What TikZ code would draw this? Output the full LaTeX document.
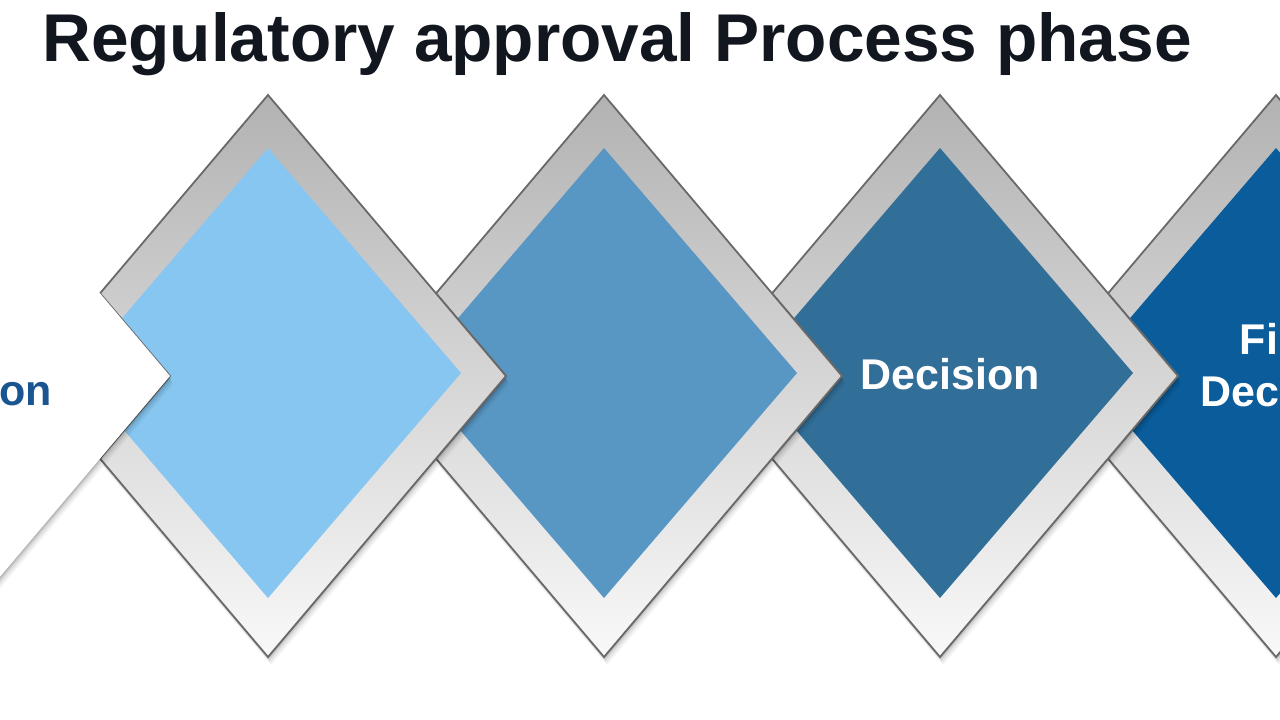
\documentclass[tikz,border=0pt]{standalone}
\usepackage{fontspec}
\setmainfont{Liberation Sans}
\definecolor{cA}{RGB}{135,198,240}
\definecolor{cB}{RGB}{88,151,196}
\definecolor{cC}{RGB}{50,111,152}
\definecolor{cD}{RGB}{10,92,155}
\definecolor{edgegray}{RGB}{105,105,105}
\definecolor{titleink}{RGB}{18,22,30}
\definecolor{onblue}{RGB}{25,85,145}
\tikzset{
  frameedge/.style={draw=edgegray, line width=1.8pt, line join=miter},
  framefill/.style={top color=gray!60, bottom color=gray!5},
  lbl/.style={text=white, font=\bfseries\fontsize{43}{52}\selectfont, align=center, inner sep=0pt},
}
\newcommand\chevshadow[1]{%
  \foreach \s/\o in {8/0.04,6/0.05,4/0.06,2.5/0.08,1.2/0.1}{%
    \fill[black,opacity=\o,shift={(0.4*\s,\s)}] (#1,95) -- ({#1+238},376) -- (#1,657) -- ({#1-168},458.6) -- ({#1-98},376) -- ({#1-168},293.4) -- cycle;}%
}
\newcommand\drawchev[2]{%
  \chevshadow{#1}%
  \shade[framefill] (#1,95) -- ({#1+238},376) -- (#1,657) -- ({#1-168},458.6) -- ({#1-98},376) -- ({#1-168},293.4) -- cycle;
  \begin{scope}
    \clip (#1,95) -- ({#1+238},376) -- (#1,657) -- ({#1-168},458.6) -- ({#1-98},376) -- ({#1-168},293.4) -- cycle;
    \fill[#2] (#1,148) -- ({#1+193},373) -- (#1,598) -- ({#1-193},373) -- cycle;
  \end{scope}
  \draw[frameedge] (#1,95) -- ({#1+238},376) -- (#1,657) -- ({#1-168},458.6) -- ({#1-98},376) -- ({#1-168},293.4) -- cycle;
}
\begin{document}
\begin{tikzpicture}[x=1pt,y=-1pt]
\useasboundingbox (0,0) rectangle (1280,720);
\fill[white] (0,0) rectangle (1280,720);
\clip (0,0) rectangle (1280,720);

% shapes, right to left so each left shape lies on top
\drawchev{1276}{cD}
\drawchev{940}{cC}
\drawchev{604}{cB}
\drawchev{268}{cA}
% off-page first step (white), only its shadow shows
\chevshadow{-68}
\fill[white] (-68,95) -- (170,376) -- (-68,657) -- (-236,458.6) -- (-166,376) -- (-236,293.4) -- cycle;

% title
\node[anchor=base west, inner sep=0pt, text=titleink, font=\bfseries\fontsize{67.6}{80}\selectfont] (title) at (42,61) {Regulatory approval Process phase};

% labels
\node[lbl, text=onblue, anchor=base east] (lbl0) at (52,405) {on};
\node[lbl] (lbl3) at (950,374) {Decision};
\node[lbl] (lbl4) at (1290,365) {Final\\Decision};
\end{tikzpicture}
\end{document}
